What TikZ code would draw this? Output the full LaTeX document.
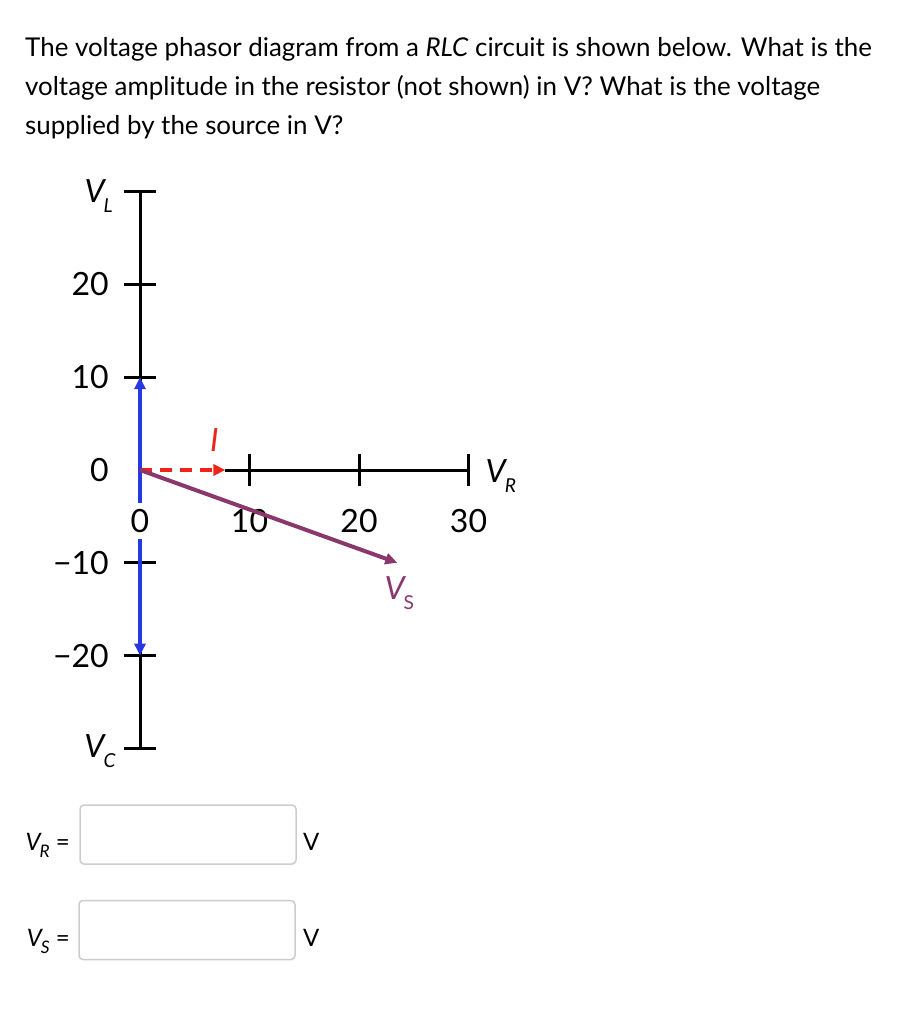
\documentclass[tikz,border=0pt]{standalone}
\usepackage{fontspec}
\setmainfont{Lato}
\usetikzlibrary{arrows.meta,positioning}
\definecolor{phblue}{RGB}{38,56,226}
\definecolor{phred}{RGB}{238,36,28}
\definecolor{phpurple}{RGB}{138,56,108}
\definecolor{boxgray}{RGB}{204,204,204}
\newcommand{\vsub}[3][0.6]{{\itshape #2}\kern-1pt\raisebox{-0.3em}{\scalebox{#1}{#3}}}
\begin{document}
\begin{tikzpicture}[x=1pt,y=-1pt,
	axisline/.style={line width=3pt},
	phasor/.style={line width=4pt,-{Triangle[length=12pt,width=11pt]}},
	ticklabel/.style={inner sep=0pt,font=\fontsize{32}{38}\selectfont},
	question/.style={anchor=base west,inner sep=0pt,font=\fontsize{25.9}{30}\selectfont},
	answer/.style={inner sep=0pt,font=\fontsize{24}{28}\selectfont},
	ansbox/.style={draw=boxgray,line width=1.5pt,rounded corners=4pt,minimum width=216pt,minimum height=59pt,inner sep=0pt}]
	\useasboundingbox (0,0) rectangle (900,1024);
	\node[question] (line1) at (25,57) {The voltage phasor diagram from a \textit{RLC} circuit is shown below. What is the};
	\node[question] (line2) at (25,96) {voltage amplitude in the resistor (not shown) in V? What is the voltage};
	\node[question] (line3) at (25,135) {supplied by the source in V?};
	\begin{scope}[shift={(140pt,-470pt)},x=10.95pt,y=9.28pt]
	\coordinate (O) at (0,0);
	\coordinate (top) at (0,30);
	\coordinate (bot) at (0,-30);
	\coordinate (Rend) at (30,0);
	\coordinate (Iend) at (7.8,0);
	\coordinate (Lend) at (0,10);
	\coordinate (Cend) at (0,-20);
	\coordinate (Send) at (23.5,-10);
	\draw[axisline] (top) -- (bot);
	\draw[axisline] (Iend) -- (Rend);
		\draw[axisline] (0,30) ++(-16pt,0pt) -- ++(32pt,0pt);
		\draw[axisline] (0,20) ++(-16pt,0pt) -- ++(32pt,0pt);
		\draw[axisline] (0,10) ++(-16pt,0pt) -- ++(32pt,0pt);
		\draw[axisline] (0,-10) ++(-16pt,0pt) -- ++(32pt,0pt);
		\draw[axisline] (0,-20) ++(-16pt,0pt) -- ++(32pt,0pt);
		\draw[axisline] (0,-30) ++(-16pt,0pt) -- ++(32pt,0pt);
		\draw[axisline] (10,0) ++(0pt,-16pt) -- ++(0pt,32pt);
		\draw[axisline] (20,0) ++(0pt,-16pt) -- ++(0pt,32pt);
		\draw[axisline] (30,0) ++(0pt,-16pt) -- ++(0pt,32pt);
	\draw[phasor,phblue] (O) -- (Lend);
	\draw[phasor,phblue] (O) -- (Cend);
	\node[ticklabel,anchor=east] (y20) at ([xshift=-31pt]0,20) {20};
	\node[ticklabel,anchor=east] (y10) at ([xshift=-31pt]0,10) {10};
	\node[ticklabel,anchor=east] (y0) at ([xshift=-31pt]0,0) {0};
	\node[ticklabel,anchor=east] (ym10) at ([xshift=-31pt]0,-10) {−10};
	\node[ticklabel,anchor=east] (ym20) at ([xshift=-31pt]0,-20) {−20};
	\node[ticklabel,fill=white,inner xsep=2pt,inner ysep=6pt] (x0) at ([yshift=-51pt]O) {0};
	\node[ticklabel] (x10) at ([yshift=-51pt]10,0) {10};
	\node[ticklabel] (x20) at ([yshift=-51pt]20,0) {20};
	\node[ticklabel] (x30) at ([yshift=-51pt]30,0) {30};
	\node[ticklabel,anchor=base east] (VL) at ([xshift=-27pt,yshift=-11pt]top) {\vsub{V}{\textit{L}}};
	\node[ticklabel,anchor=base east] (VC) at ([xshift=-24pt,yshift=-9pt]bot) {\vsub{V}{\textit{C}}};
	\node[ticklabel,anchor=base west] (VR) at ([xshift=17pt,yshift=-12.7pt]Rend) {\vsub{V}{\textit{R}}};
	\draw[phasor,phred,dash pattern=on 12pt off 8pt] (O) -- (Iend);
	\node[ticklabel,anchor=base,text=phred] (I) at ([xshift=-11pt,yshift=19pt]Iend) {\textit{I}};
	\draw[phasor,phpurple] (O) -- (Send);
	\node[ticklabel,anchor=base west,text=phpurple] (VS) at ([xshift=-13pt,yshift=-37pt]Send) {\vsub{V}{S}};
	\end{scope}
	\node[ansbox] (boxR) at (188,834.5) {};
	\node[ansbox] (boxS) at (187,930) {};
	\node[answer,anchor=base east] (labR) at (70,850) {\vsub[0.72]{V}{\textit{R}} =};
	\node[answer,anchor=base east] (labS) at (70,946.5) {\vsub[0.72]{V}{\textit{S}} =};
	\node[answer,anchor=base west] (unitR) at (303,850) {V};
	\node[answer,anchor=base west] (unitS) at (303,946.5) {V};
\end{tikzpicture}
\end{document}
